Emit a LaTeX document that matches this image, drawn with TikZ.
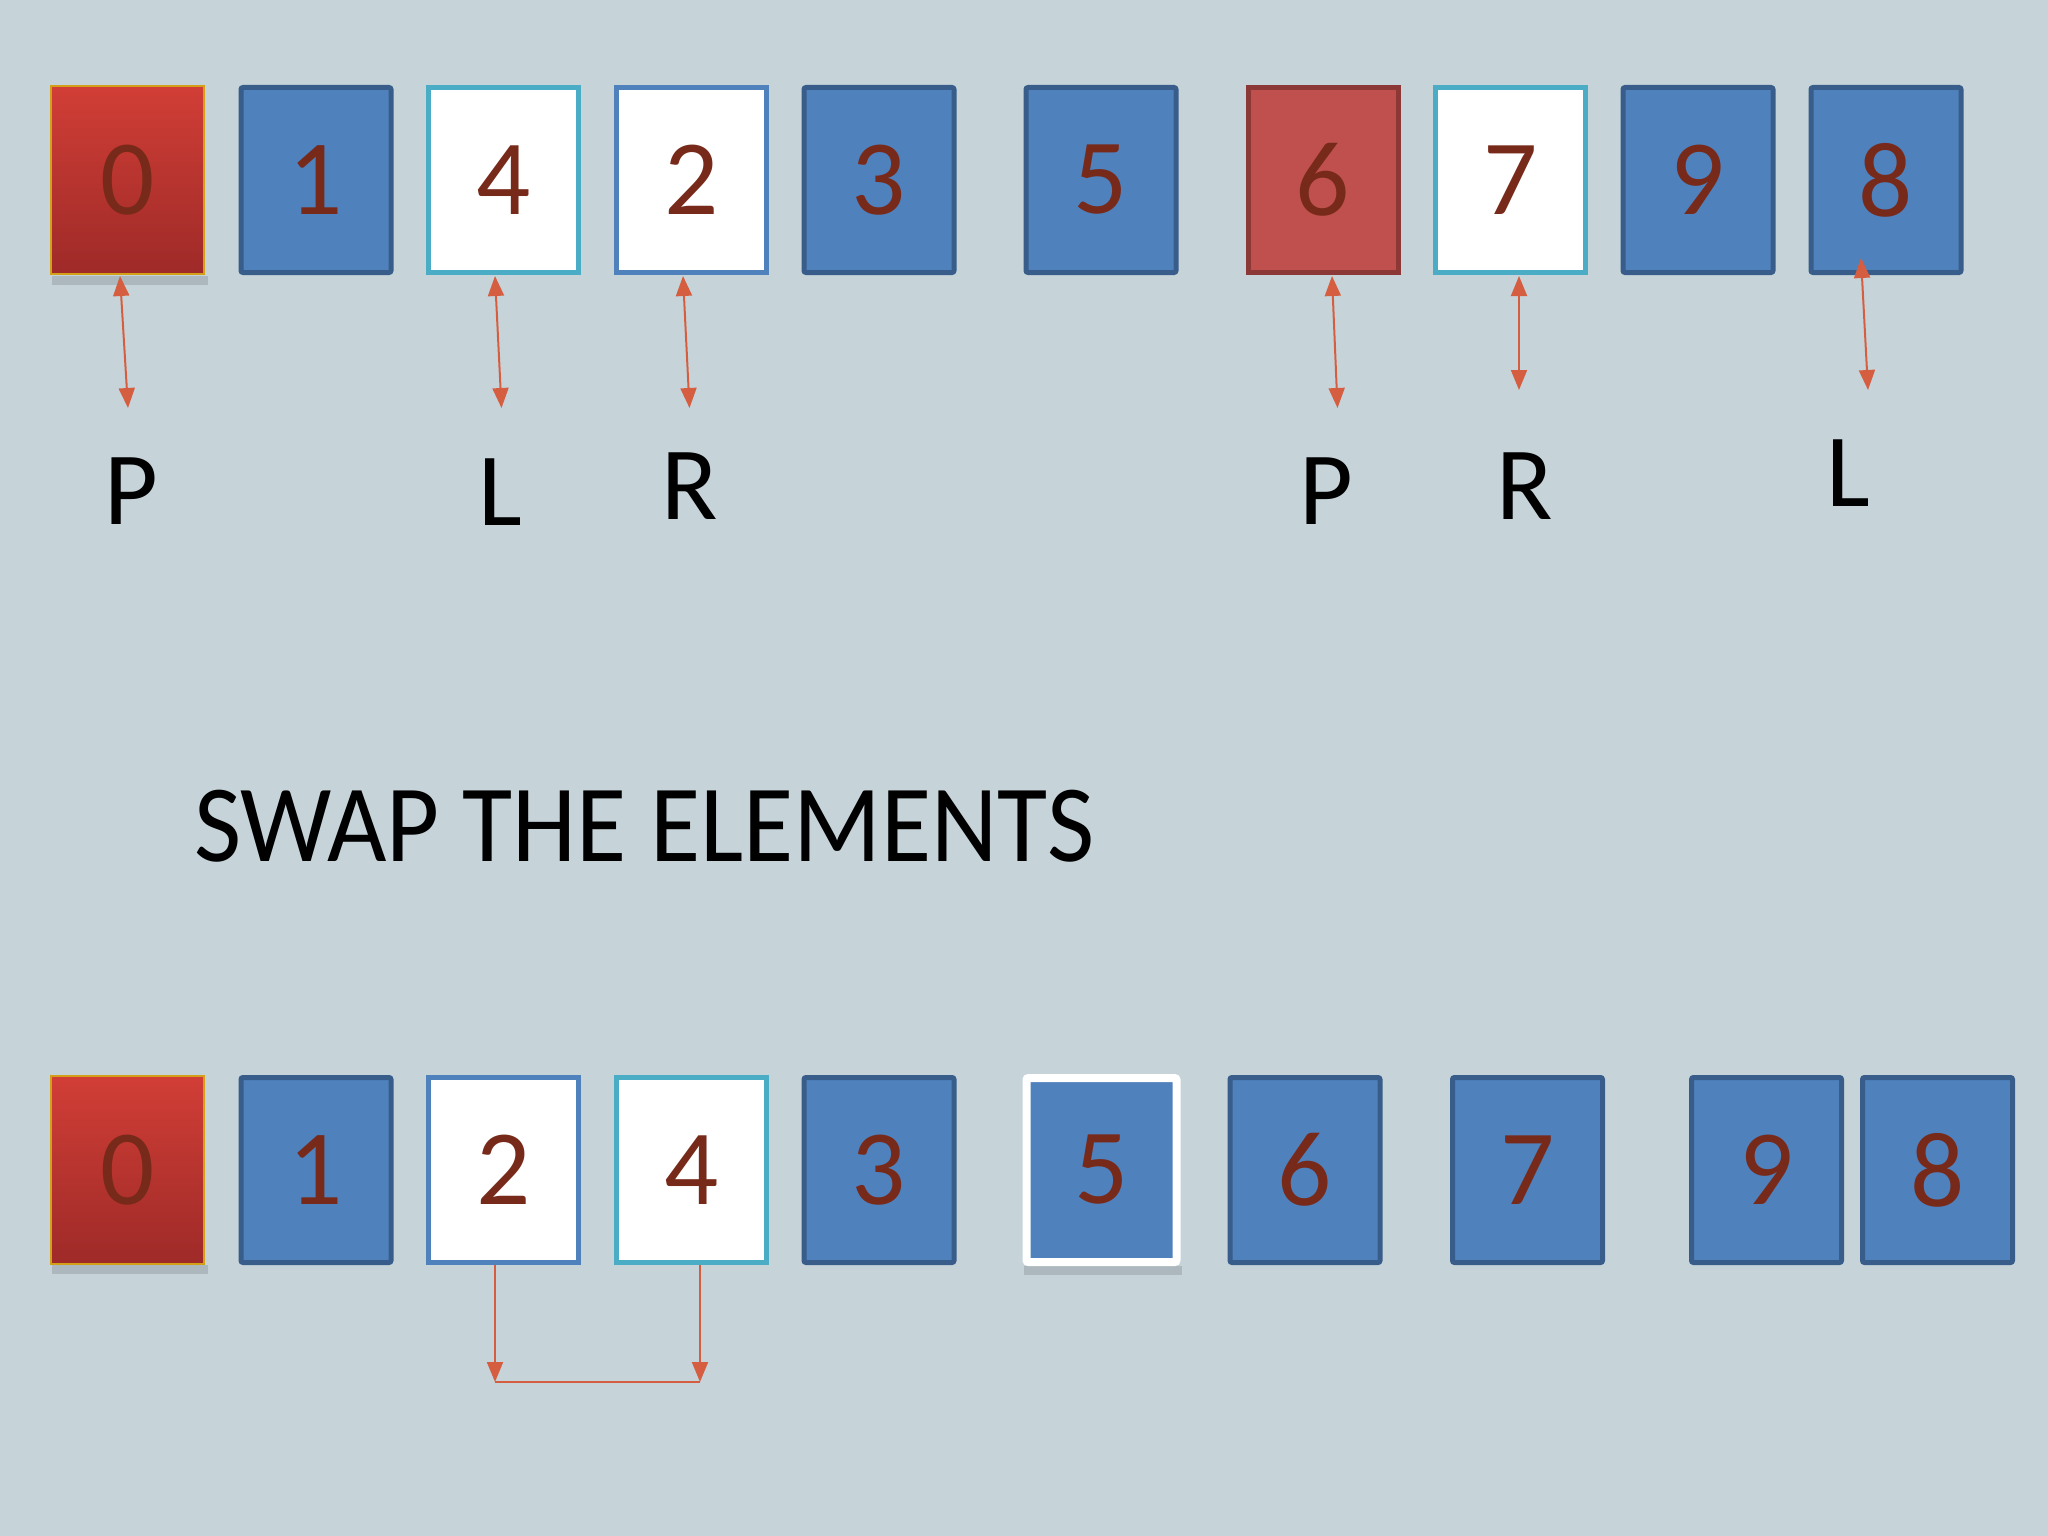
\documentclass[tikz,border=0pt]{standalone}
\usepackage{fontspec}
\setmainfont{Carlito}
\usetikzlibrary{arrows.meta,calc}
\definecolor{bg}{RGB}{198,212,218}
\definecolor{bfill}{RGB}{79,129,189}
\definecolor{bdraw}{RGB}{56,93,138}
\definecolor{cyanb}{RGB}{75,172,198}
\definecolor{digit}{RGB}{120,42,26}
\definecolor{arr}{RGB}{214,94,64}
\definecolor{redfill}{RGB}{192,80,77}
\definecolor{reddraw}{RGB}{140,56,54}
\definecolor{goldb}{RGB}{212,160,23}
\definecolor{redtop}{RGB}{209,62,54}
\definecolor{redbot}{RGB}{158,42,40}
\begin{document}
\begin{tikzpicture}[x=1pt,y=-1pt,
  card/.style={minimum width=150pt, minimum height=185pt, inner sep=0pt, line width=5pt,
    font=\fontsize{107}{107}\selectfont, text=digit},
  bluecard/.style={card, fill=bfill, draw=bdraw, rounded corners=2pt},
  cyancard/.style={card, fill=white, draw=cyanb},
  wbcard/.style={card, fill=white, draw=bfill},
  redcard/.style={card, fill=redfill, draw=reddraw},
  pivotcard/.style={card, minimum width=153pt, minimum height=188pt, line width=2pt,
    top color=redtop, bottom color=redbot, draw=goldb},
  selcard/.style={card, minimum height=184pt, fill=bfill, draw=white, line width=8pt, rounded corners=2pt},
  lbl/.style={font=\fontsize{104}{104}\selectfont, text=black, inner sep=0pt},
  dbl/.style={draw=arr, line width=2pt, {Triangle[width=16pt,length=20pt]}-{Triangle[width=16pt,length=20pt]}},
  one/.style={draw=arr, line width=2pt, -{Triangle[width=16pt,length=20pt]}},
  shadow/.style={fill=black, opacity=0.13}
]
\fill[bg] (0,0) rectangle (2048,1536);
\useasboundingbox (0,0) rectangle (2048,1536);

% ---------- top row ----------
\fill[shadow] (52,276) rectangle (208,285);
\node[pivotcard] (t0) at (127.5,180) {0};
\node[bluecard] (t1) at (316,180) {1};
\node[cyancard] (t2) at (503.5,180) {4};
\node[wbcard] (t3) at (691.5,180) {2};
\node[bluecard] (t4) at (879,180) {3};
\node[bluecard] (t5) at (1101,180) {5};
\node[redcard] (t6) at (1323,180) {6};
\node[cyancard] (t7) at (1510.5,180) {7};
\node[bluecard] (t8) at (1698,180) {9};
\node[bluecard] (t9) at (1886,180) {8};

% labels
\node[lbl] (lp1) at (131,491) {P};
\node[lbl] (ll1) at (500,492) {L};
\node[lbl] (lr1) at (690,486) {R};
\node[lbl] (lp2) at (1326,491) {P};
\node[lbl] (lr2) at (1525,486) {R};
\node[lbl] (ll2) at (1848,473) {L};

% arrow ends
\coordinate (a1s) at (120,276);  \coordinate (a1e) at (128,408);
\coordinate (a2s) at (495,276);  \coordinate (a2e) at (501.5,408);
\coordinate (a3s) at (683,276);  \coordinate (a3e) at (689.5,408);
\coordinate (a4s) at (1332,276); \coordinate (a4e) at (1337.5,408);
\coordinate (a5s) at (1519,276); \coordinate (a5e) at (1519,390);
\coordinate (a6s) at (1861,258); \coordinate (a6e) at (1868,390);
\draw[dbl] (a1s) -- (a1e);
\draw[dbl] (a2s) -- (a2e);
\draw[dbl] (a3s) -- (a3e);
\draw[dbl] (a4s) -- (a4e);
\draw[dbl] (a5s) -- (a5e);
\draw[dbl] (a6s) -- (a6e);

% ---------- middle text ----------
\node[font=\fontsize{110}{110}\selectfont, anchor=west, inner sep=0pt, xscale=0.933, transform shape] (swap) at (194,826) {SWAP THE ELEMENTS};

% ---------- bottom row ----------
\fill[shadow] (52,1265) rectangle (208,1274);
\node[pivotcard] (b0) at (127.5,1170) {0};
\node[bluecard] (b1) at (316,1170) {1};
\node[wbcard] (b2) at (503.5,1170) {2};
\node[cyancard] (b3) at (691.5,1170) {4};
\node[bluecard] (b4) at (879,1170) {3};
\fill[shadow] (1024,1266) rectangle (1182,1275);
\node[selcard] (b5) at (1101.5,1170) {5};
\node[bluecard] (b6) at (1305,1170) {6};
\node[bluecard] (b7) at (1527.5,1170) {7};
\node[bluecard] (b8) at (1766.5,1170) {9};
\node[bluecard] (b9) at (1937.5,1170) {8};

% swap connector
\coordinate (s1) at (495,1382);
\coordinate (s2) at (700,1382);
\draw[one] (b2.south -| s1) -- (s1);
\draw[one] (b3.south -| s2) -- (s2);
\draw[draw=arr, line width=2pt] (s1) -- (s2);
\end{tikzpicture}
\end{document}
